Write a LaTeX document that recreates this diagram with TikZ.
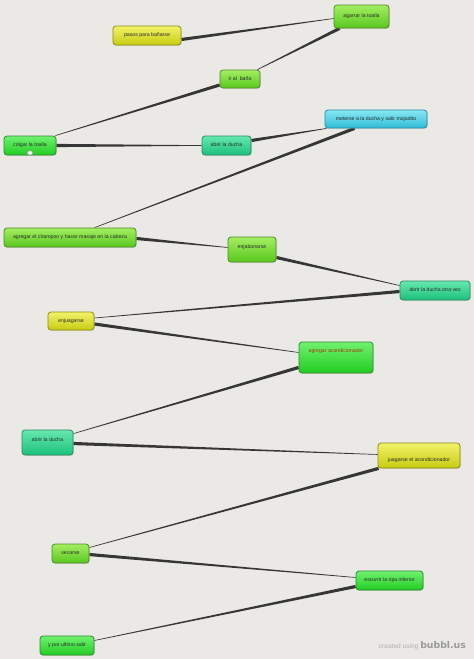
\documentclass[tikz,border=0pt]{standalone}
\usepackage{fontspec}
\setmainfont{Liberation Sans}
\newfontfamily\credfont{DejaVu Sans}
\usetikzlibrary{calc,shadows,shapes.geometric}
\pgfdeclarelayer{background}
\pgfsetlayers{background,main}
\definecolor{bg}{HTML}{EBE9E6}
\definecolor{conncol}{HTML}{363636}
\definecolor{txt}{HTML}{2A2A2A}
\definecolor{acondtxt}{HTML}{A03C0C}
\definecolor{ygD}{HTML}{4F8A26}
\definecolor{ygT}{HTML}{A4EE62}
\definecolor{ygB}{HTML}{58C81E}
\definecolor{pgD}{HTML}{2E8A2E}
\definecolor{pgT}{HTML}{70F270}
\definecolor{pgB}{HTML}{22CC22}
\definecolor{tlD}{HTML}{2A8A64}
\definecolor{tlT}{HTML}{66E8AE}
\definecolor{tlB}{HTML}{1CC07C}
\definecolor{cyD}{HTML}{2A8AA0}
\definecolor{cyT}{HTML}{86E8F2}
\definecolor{cyB}{HTML}{30BCD6}
\definecolor{yeD}{HTML}{8C8C14}
\definecolor{yeT}{HTML}{F2F26A}
\definecolor{yeB}{HTML}{C8CC10}
\definecolor{credA}{HTML}{B0B0B0}
\definecolor{credB}{HTML}{9A9A9A}
\tikzset{
  box/.style={rounded corners=3pt, line width=0.8pt, inner xsep=3pt, inner ysep=0pt,
    font=\fontsize{5.2}{6}\selectfont, text=txt, text height=3.8pt, text depth=1.2pt,
    drop shadow={opacity=0.25, shadow xshift=0.8pt, shadow yshift=-0.8pt}},
  ygreen/.style={box, draw=ygD, top color=ygT, bottom color=ygB},
  pgreen/.style={box, draw=pgD, top color=pgT, bottom color=pgB},
  teal/.style={box, draw=tlD, top color=tlT, bottom color=tlB},
  cyanb/.style={box, draw=cyD, top color=cyT, bottom color=cyB},
  yell/.style={box, draw=yeD, top color=yeT, bottom color=yeB},
}
\newcommand\taper[2]{\fill[conncol] ($(#1)!1.6pt!90:(#2)$) -- ($(#1)!1.6pt!-90:(#2)$) -- ($(#2)!0.3pt!90:(#1)$) -- ($(#2)!0.3pt!-90:(#1)$) -- cycle;}
\begin{document}
\begin{tikzpicture}[x=1pt,y=-1pt]
\begin{pgfonlayer}{background}
\fill[bg] (0,0) rectangle (474,659);
\end{pgfonlayer}
\useasboundingbox (0,0) rectangle (474,659);

\node[yell, minimum width=68pt, minimum height=19pt] (pasos) at (147,35.5) {pasos para bañarse};
\node[ygreen, minimum width=55pt, minimum height=23pt] (agarrar) at (361.5,16.5) {agarrar la toalla};
\node[ygreen, minimum width=40pt, minimum height=18pt] (irbano) at (240,79) {ir al\ \ baño};
\node[pgreen, minimum width=52pt, minimum height=19pt] (colgar) at (30,145.5) {colgar la toalla};
\node[ellipse, draw=gray, fill=white!88!gray, inner sep=0pt, minimum width=6pt, minimum height=4.5pt] (knob) at ($(colgar.south)+(0,-2.5)$) {};
\node[teal, minimum width=49pt, minimum height=19pt] (abrir1) at (226.5,145.5) {abrir la ducha};
\node[cyanb, minimum width=102pt, minimum height=18pt] (meterse) at (376,119) {meterse a la ducha y salir mojadito};
\node[ygreen, minimum width=132pt, minimum height=19pt] (champoo) at (70,237.5) {agregar el champoo y hacer masaje en la cabeza};
\node[ygreen, minimum width=48pt, minimum height=25pt, text depth=5pt] (enjab) at (252,249.5) {enjabonarse};
\node[teal, minimum width=70pt, minimum height=19pt] (otra) at (435,290.5) {abrir la ducha otra vez};
\node[yell, minimum width=46pt, minimum height=18pt] (enjuag) at (71,321) {enjuagarse};
\node[pgreen, minimum width=74pt, minimum height=31pt, text height=3.5pt, text depth=13pt, text=acondtxt] (acond) at (336,357.5) {agregar acondicionador};
\node[teal, minimum width=51pt, minimum height=25pt, text depth=5pt] (abrir3) at (47.5,442.5) {abrir la ducha};
\node[yell, minimum width=82pt, minimum height=25pt, text height=12pt, text depth=1pt] (juag) at (419,455.5) {juagarse el acondicionador};
\node[ygreen, minimum width=37pt, minimum height=19pt] (secarse) at (70.5,553.5) {secarse};
\node[pgreen, minimum width=67pt, minimum height=19pt] (escurrir) at (389.5,580.5) {escurrir la ripa inferior};
\node[pgreen, minimum width=54pt, minimum height=19pt] (ultimo) at (67,645.5) {y por ultimo salir};

\node[anchor=base east, inner sep=0pt] (credit) at (466,648) {\fontsize{6.6}{7}\selectfont\color{credA}created using\ \credfont\fontsize{9.3}{10}\selectfont\bfseries\color{credB}bubbl.us};

\coordinate (a1) at ($(pasos.east)+(0,4)$);
\coordinate (b1) at ($(agarrar.west)+(0,2)$);
\coordinate (a2) at ($(agarrar.south west)+(6,0)$);
\coordinate (b2) at ($(irbano.north east)+(-3,0)$);
\coordinate (a3) at ($(irbano.west)+(0,6)$);
\coordinate (b3) at ($(colgar.north east)+(-1,0)$);
\coordinate (a4) at (colgar.east);
\coordinate (b4) at (abrir1.west);
\coordinate (a5) at ($(abrir1.east)+(0,-5)$);
\coordinate (b5) at ($(meterse.south west)+(2,0)$);
\coordinate (a6) at ($(meterse.south west)+(30,0)$);
\coordinate (b6) at ($(champoo.north west)+(91,0)$);
\coordinate (a7) at ($(champoo.east)+(0,1)$);
\coordinate (b7) at ($(enjab.west)+(0,-2)$);
\coordinate (a8) at ($(enjab.east)+(0,8)$);
\coordinate (b8) at ($(otra.west)+(0,-5)$);
\coordinate (a9) at ($(otra.west)+(0,1)$);
\coordinate (b9) at ($(enjuag.east)+(0,-3)$);
\coordinate (a10) at ($(enjuag.east)+(0,3)$);
\coordinate (b10) at ($(acond.west)+(0,-5)$);
\coordinate (a11) at ($(acond.west)+(0,10)$);
\coordinate (b11) at ($(abrir3.north east)+(0,4)$);
\coordinate (a12) at ($(abrir3.east)+(0,1)$);
\coordinate (b12) at ($(juag.west)+(0,-1)$);
\coordinate (a13) at ($(juag.south west)+(1,0)$);
\coordinate (b13) at ($(secarse.east)+(0,-6)$);
\coordinate (a14) at ($(secarse.east)+(0,1)$);
\coordinate (b14) at ($(escurrir.west)+(0,-3)$);
\coordinate (a15) at ($(escurrir.west)+(0,6)$);
\coordinate (b15) at ($(ultimo.east)+(0,-5)$);

\begin{pgfonlayer}{background}
\taper{a1}{b1}
\taper{a2}{b2}
\taper{a3}{b3}
\taper{a4}{b4}
\taper{a5}{b5}
\taper{a6}{b6}
\taper{a7}{b7}
\taper{a8}{b8}
\taper{a9}{b9}
\taper{a10}{b10}
\taper{a11}{b11}
\taper{a12}{b12}
\taper{a13}{b13}
\taper{a14}{b14}
\taper{a15}{b15}
\end{pgfonlayer}
\end{tikzpicture}
\end{document}
